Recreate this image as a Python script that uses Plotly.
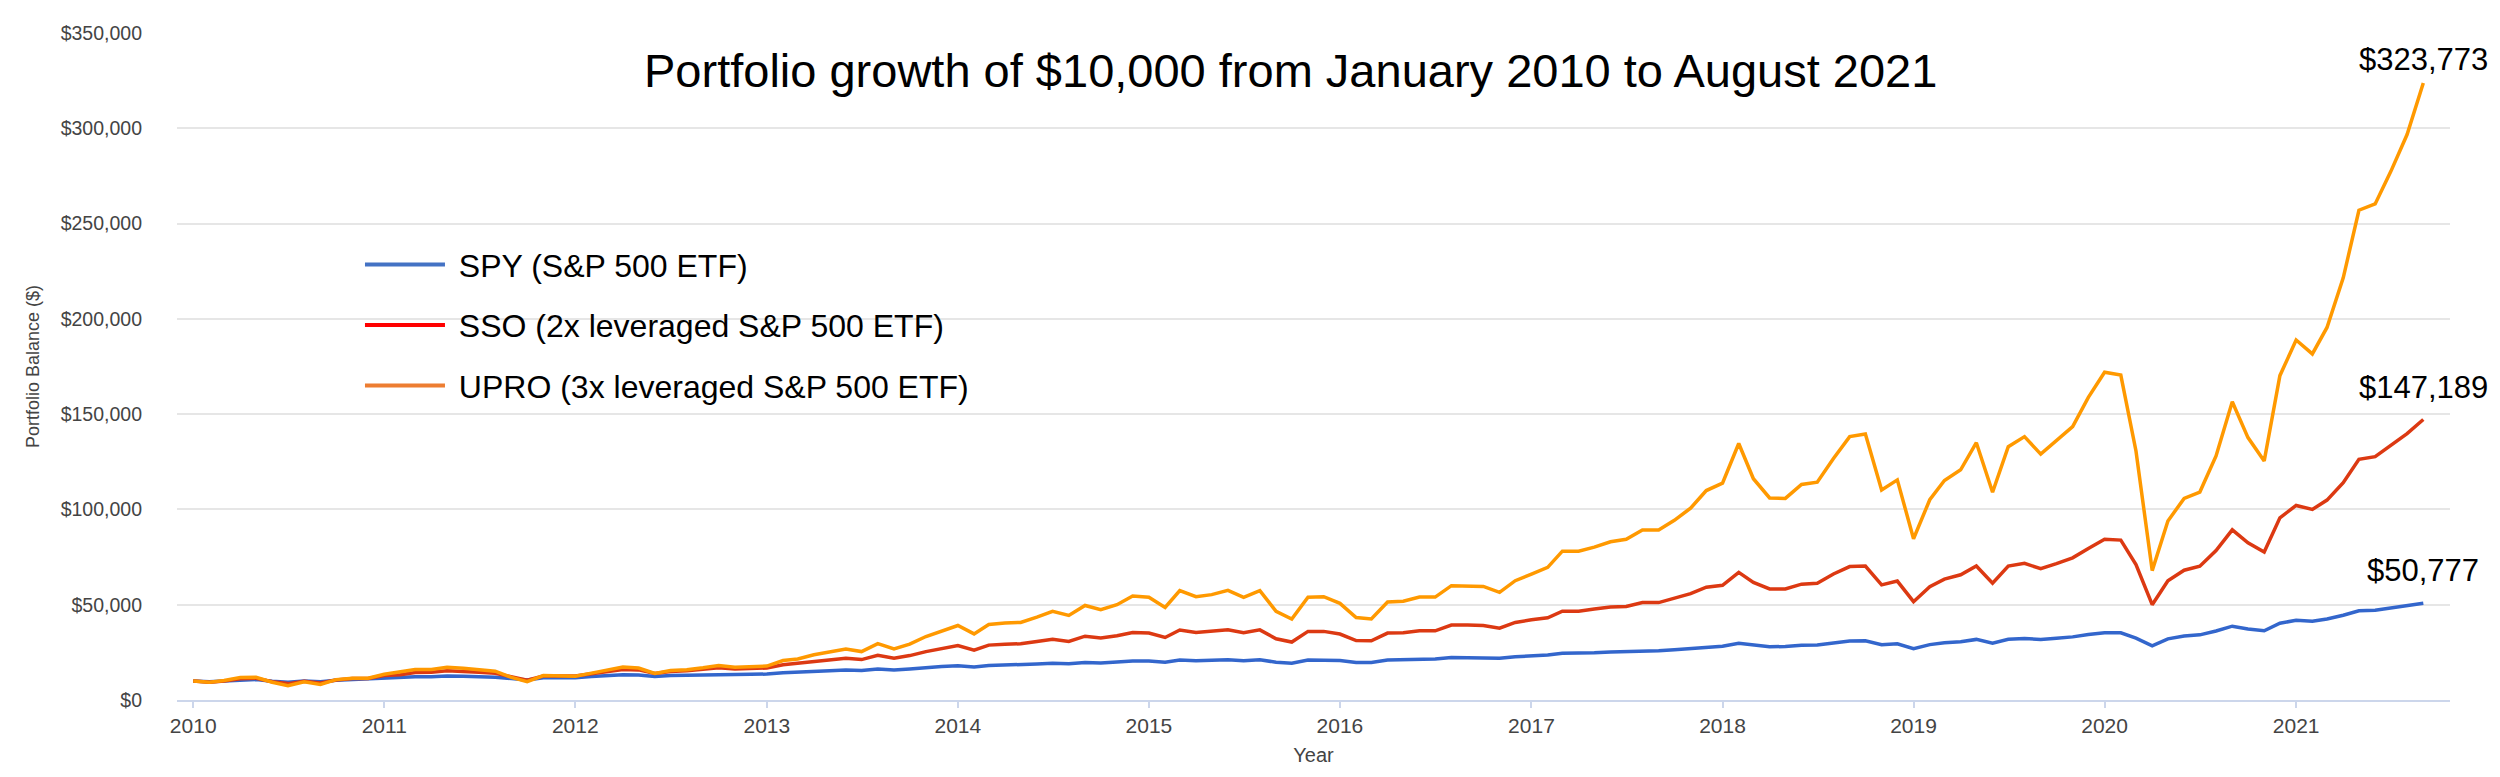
import pandas as pd
import plotly.graph_objects as go

# month-start dates: Jan 2010 (start balance) .. Sep 2021 (end of Aug 2021)
dates = pd.date_range("2010-01-01", periods=141, freq="MS")

spy = [
    10000, 9640, 9940, 10540, 10710, 9860, 9350, 9980, 9540, 10390, 10790, 10790, 11510,
    11770, 12180, 12180, 12540, 12400, 12190, 11940, 11290, 10500, 11650, 11600, 11720,
    12270, 12800, 13210, 13120, 12330, 12840, 12990, 13310, 13650, 13400, 13480, 13600,
    14290, 14480, 15030, 15320, 15680, 15470, 16270, 15780, 16280, 17030, 17540, 17990,
    17360, 18150, 18300, 18430, 18850, 19240, 18980, 19730, 19460, 19920, 20470, 20420,
    19810, 20930, 20600, 20800, 21070, 20640, 21110, 19820, 19330, 20970, 21050, 20690,
    19660, 19640, 20960, 21040, 21400, 21480, 22260, 22290, 22290, 21900, 22710, 23170,
    23580, 24510, 24540, 24790, 25140, 25300, 25820, 25890, 26410, 27030, 27860, 28200,
    29790, 28700, 27920, 28060, 28740, 28910, 29980, 30940, 31120, 28970, 29510, 26910,
    29070, 30010, 30550, 31800, 29770, 31840, 32320, 31780, 32400, 33120, 34320, 35310,
    35300, 32500, 28450, 32070, 33590, 34190, 36200, 38730, 37280, 36350, 40310, 41800,
    41380, 42530, 44460, 46810, 47120, 48180, 49350, 50777,
]

sso = [
    10000, 9300, 9900, 11100, 11400, 9600, 8600, 9800, 8900, 10500, 11300, 11300, 12800,
    13300, 14400, 14600, 15400, 15100, 14600, 14000, 12300, 10400, 12600, 12500, 12600,
    13800, 15000, 16000, 15800, 13900, 15000, 15300, 16100, 16900, 16300, 16500, 16800,
    18500, 19300, 20200, 21000, 21900, 21200, 23500, 21900, 23300, 25400, 27200, 28600,
    26100, 28800, 29300, 29500, 30700, 31900, 30700, 33500, 32500, 33700, 35400, 35100,
    32800, 36700, 35400, 36100, 36800, 35300, 36800, 32100, 30400, 36000, 36000, 34600,
    31200, 31100, 35100, 35300, 36300, 36300, 39300, 39300, 39100, 37700, 40700, 42100,
    43100, 46600, 46600, 47700, 48800, 49100, 51100, 51100, 53400, 55800, 59200, 60200,
    67000, 61700, 58300, 58300, 60800, 61300, 66100, 70000, 70300, 60400, 62400, 51600,
    59500, 63400, 65700, 70300, 61300, 70300, 71700, 68900, 71600, 74600, 79500, 84300,
    83900, 71100, 50000, 62600, 68100, 70200, 78400, 89300, 82500, 77700, 95600, 102100,
    100000, 104900, 114000, 126300, 127700, 133900, 139800, 147189,
]

upro = [
    10000, 9300, 10200, 11800, 11900, 9300, 7500, 9600, 8200, 10700, 11400, 11400, 13500,
    14600, 16000, 16000, 17200, 16700, 15800, 15100, 11900, 9600, 12800, 12600, 12500,
    14100, 15800, 17300, 16800, 13900, 15500, 15900, 16900, 18100, 17200, 17300, 17800,
    20700, 21500, 23700, 25100, 26800, 25400, 29600, 26800, 29300, 33300, 36300, 39100,
    34700, 39600, 40400, 40700, 43500, 46500, 44400, 49600, 47400, 50000, 54600, 53900,
    48600, 57400, 54200, 55300, 57500, 53900, 57400, 46500, 42500, 53900, 54200, 50700,
    43300, 42500, 51400, 51800, 54000, 54000, 60000, 60000, 59600, 56500, 62600, 66100,
    69600, 78100, 78100, 80200, 83000, 84300, 89200, 89200, 94300, 100700, 109900, 113800,
    134600, 116100, 106000, 105800, 113100, 114300, 126700, 138200, 139600, 110200, 115500, 84600,
    105100, 115200, 120800, 135000, 109000, 132900, 138200, 129000, 136000, 143500, 158800, 172000,
    170500, 130700, 67900, 93900, 105800, 109100, 128100, 156500, 137700, 125400, 170200, 188900,
    181600, 195500, 221500, 257000, 260300, 277400, 296700, 323773,
]

names = ["SPY (S&P 500 ETF)", "SSO (2x leveraged S&P 500 ETF)", "UPRO (3x leveraged S&P 500 ETF)"]
line_colors = ["#3366CC", "#DC3912", "#FF9900"]
legend_colors = ["#4472C4", "#FF0000", "#ED7D31"]
label_shift = [13, 13, 4]   # top label sits a little closer to its point
series = [spy, sso, upro]

FONT = "Liberation Sans, Arial"

fig = go.Figure()
for name, vals, col, ys in zip(names, series, line_colors, label_shift):
    fig.add_trace(go.Scatter(x=dates, y=vals, mode="lines", name=name,
                             line=dict(color=col, width=3.5), showlegend=False))
    # final balance label above the last point
    fig.add_annotation(x=dates[-1], y=vals[-1], text=f"${vals[-1]:,}", showarrow=False,
                       yanchor="bottom", yshift=ys,
                       font=dict(family=FONT, size=31, color="black"))

# legend entries only (the legend uses slightly different colours than the lines)
for i, (name, col) in enumerate(zip(names, legend_colors)):
    fig.add_trace(go.Scatter(x=[None], y=[None], mode="lines", name="\u00a0" + name,
                             legendgroup=f"g{i}", line=dict(color=col, width=4)))

fig.add_annotation(text="Portfolio growth of $10,000 from January 2010 to August 2021",
                   xref="paper", yref="paper", x=0.490, y=0.9445, showarrow=False,
                   xanchor="center", yanchor="middle",
                   font=dict(family=FONT, size=47, color="black"))

fig.update_layout(
    width=2500, height=777,
    margin=dict(l=169, r=58, t=25, b=85),
    paper_bgcolor="white", plot_bgcolor="white",
    font=dict(family=FONT, color="#444"),
    legend=dict(x=0.0805, y=0.694, xanchor="left", yanchor="top",
                font=dict(size=32, color="black"), bgcolor="rgba(0,0,0,0)",
                tracegroupgap=16, itemwidth=80),
    xaxis=dict(
        title=dict(text="Year", font=dict(size=20, color="#444"), standoff=12),
        automargin=False,
        range=["2009-12-01", "2021-10-22"],
        dtick="M12", tickformat="%Y", tick0="2010-01-01",
        showgrid=False, showline=True, linecolor="#ccd6eb", linewidth=2,
        ticks="outside", ticklen=6, tickcolor="#ccd6eb", tickwidth=2,
        tickfont=dict(size=21, color="#444"),
    ),
    yaxis=dict(
        title=dict(text="Portfolio Balance ($)", font=dict(size=18, color="#444"), standoff=16),
        automargin=False,
        range=[0, 350000], dtick=50000, tickprefix="$", tickformat=",",
        showgrid=True, gridcolor="#e6e6e6", gridwidth=2, zeroline=False,
        tickfont=dict(size=19.5, color="#444"), ticklabelstandoff=34,
    ),
)

fig.write_html("out.html")
